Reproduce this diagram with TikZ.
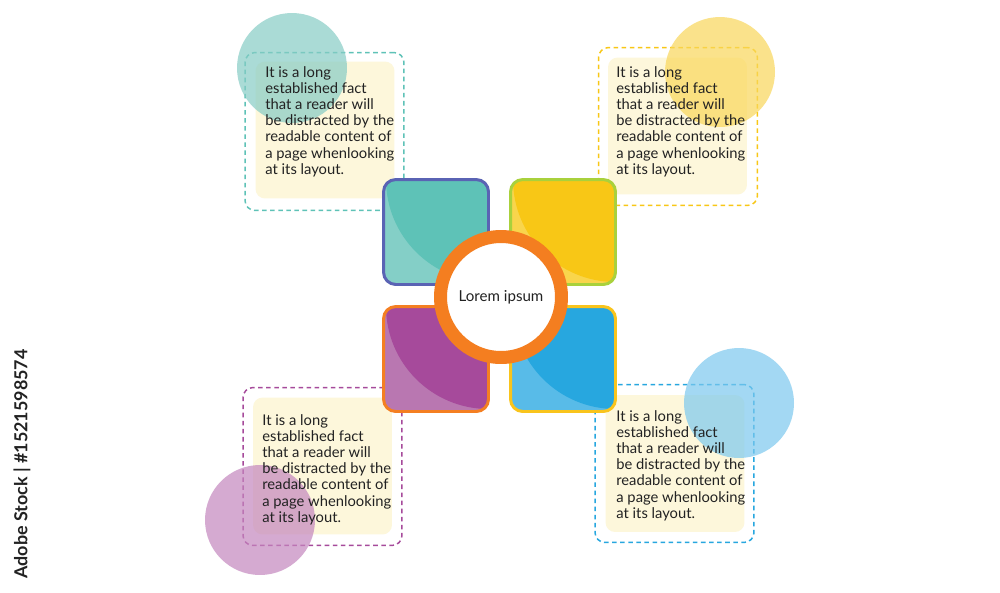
\documentclass[tikz,border=0pt]{standalone}
\usepackage{fontspec}
\setmainfont{Lato}
\usetikzlibrary{positioning}

\definecolor{tealfill}{HTML}{5EC2B7}
\definecolor{teallight}{HTML}{84CFC7}
\definecolor{tealedge}{HTML}{5A63B4}
\definecolor{yellowfill}{HTML}{F8C716}
\definecolor{yellowlight}{HTML}{F9D54C}
\definecolor{yellowedge}{HTML}{A9D13C}
\definecolor{purplefill}{HTML}{A64A9B}
\definecolor{purplelight}{HTML}{B977B1}
\definecolor{purpleedge}{HTML}{F47F22}
\definecolor{bluefill}{HTML}{27A7DF}
\definecolor{bluelight}{HTML}{58BBE8}
\definecolor{blueedge}{HTML}{F9C41C}
\definecolor{ringorange}{HTML}{F47E20}
\definecolor{cream}{HTML}{FDF7DB}
\definecolor{textgray}{HTML}{222222}
\definecolor{tealdot}{HTML}{86CCC5}
\definecolor{yellowdot}{HTML}{F9D75A}
\definecolor{purpledot}{HTML}{C486BE}
\definecolor{bluedot}{HTML}{7CC8EE}

\newcommand{\blurb}{It is a long\\ established fact\\ that a reader will\\ be distracted by the\\ readable content of\\ a page whenlooking\\ at its layout.}

\begin{document}
\begin{tikzpicture}[x=0.02cm, y=-0.02cm,
		tile/.style={rectangle, rounded corners=7pt, line width=1.7pt, inner sep=0pt, minimum size=2.1cm},
		hub/.style={circle, draw=ringorange, fill=white, line width=7.4pt, inner sep=0pt, minimum size=2.42cm,
			font=\fontsize{8.6}{10}\selectfont, text=textgray},
		frame/.style={rectangle, dashed, dash pattern=on 2.6pt off 2pt, line width=0.85pt, rounded corners=5.7pt,
			minimum width=3.18cm, minimum height=3.16cm, inner sep=0pt},
		card/.style={rectangle, fill=cream, rounded corners=5.5pt, minimum width=2.78cm, minimum height=2.74cm, inner sep=0pt},
		dot/.style={circle, fill opacity=0.7, inner sep=0pt, minimum size=2.2cm},
		note/.style={anchor=north west, align=left, inner sep=0pt, text=textgray, font=\fontsize{8.4}{9.2}\selectfont},
		]
		\useasboundingbox (0,0) rectangle (1000,592);
		\fill[white] (0,0) rectangle (1000,592);

		% Top left note
		\node[frame, draw=tealfill] (f1) at (324.5,131.5) {};
		\node[card] (c1) at (325,130) {};
		\node[dot, fill=tealdot] (d1) at (292,68) {};
		\node[note] (n1) at (265,66) {\blurb};

		% Top right note
		\node[frame, draw=yellowfill] (f2) at (678,126.5) {};
		\node[card] (c2) at (677.5,126) {};
		\node[dot, fill=yellowdot] (d2) at (720,72) {};
		\node[note] (n2) at (616,66) {\blurb};

		% Bottom left note
		\node[frame, draw=purplefill] (f3) at (322.5,466.5) {};
		\node[card] (c3) at (322.5,466) {};
		\node[dot, fill=purpledot] (d3) at (260,520) {};
		\node[note] (n3) at (262,414) {\blurb};

		% Bottom right note
		\node[frame, draw=bluefill] (f4) at (674.5,463.5) {};
		\node[card] (c4) at (675,463.5) {};
		\node[dot, fill=bluedot] (d4) at (739,403) {};
		\node[note] (n4) at (616,410) {\blurb};

		% Tiles
		\node[tile, draw=tealedge, path picture={
			\fill[teallight] (path picture bounding box.south west) rectangle (path picture bounding box.north east);
			\fill[tealfill] (path picture bounding box.north east) circle[radius=2.05cm];}] (t1) at (436,232) {};
		\node[tile, draw=yellowedge, path picture={
			\fill[yellowlight] (path picture bounding box.south west) rectangle (path picture bounding box.north east);
			\fill[yellowfill] (path picture bounding box.north east) circle[radius=2.05cm];}] (t2) at (563,232) {};
		\node[tile, draw=purpleedge, path picture={
			\fill[purplelight] (path picture bounding box.south west) rectangle (path picture bounding box.north east);
			\fill[purplefill] (path picture bounding box.north east) circle[radius=2.05cm];}] (t3) at (436,359) {};
		\node[tile, draw=blueedge, path picture={
			\fill[bluelight] (path picture bounding box.south west) rectangle (path picture bounding box.north east);
			\fill[bluefill] (path picture bounding box.north east) circle[radius=2.05cm];}] (t4) at (563,359) {};

		% Centre
		\node[hub] (core) at (501,297) {Lorem ipsum};

		% Side label
		\node[rotate=90, text=textgray, font=\fontsize{10.2}{12}\selectfont\bfseries] (stamp) at (22,464)
			{Adobe Stock | \#1521598574};
	\end{tikzpicture}
\end{document}
